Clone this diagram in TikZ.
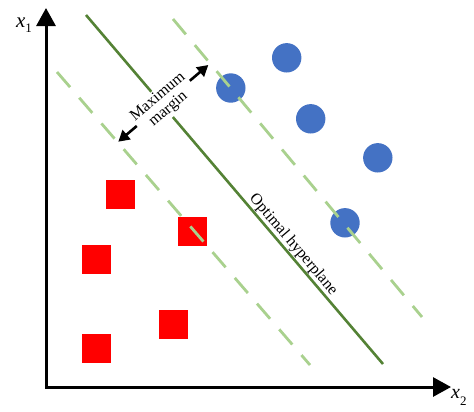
\documentclass[tikz,border=0pt]{standalone}
\usepackage{fontspec}
\setmainfont{Liberation Serif}
\usetikzlibrary{arrows.meta,calc}
\definecolor{hyper}{HTML}{548235}
\definecolor{marg}{HTML}{A9D18E}
\definecolor{pblue}{HTML}{4472C4}
\definecolor{pred}{HTML}{FF0000}
\begin{document}
\begin{tikzpicture}[x=1bp,y=1bp,
  axisline/.style={line width=3bp,{Triangle[length=18bp,width=19bp]}-{Triangle[length=18bp,width=19bp]}},
  hyperline/.style={draw=hyper,line width=2.6bp},
  margline/.style={draw=marg,line width=2.8bp,dash pattern=on 20bp off 14bp},
  sqpt/.style={fill=pred,draw=none,minimum size=29bp,inner sep=0pt,rectangle},
  cipt/.style={fill=pblue,draw=none,minimum size=29.4bp,inner sep=0pt,circle},
  marrow/.style={line width=2.6bp,{Triangle[length=11bp,width=12bp]}-{Triangle[length=11bp,width=12bp]}},
  lbl/.style={font=\fontsize{16}{16}\selectfont,inner sep=1pt}
]
\useasboundingbox (0,0) rectangle (474,-411);
% axes
\coordinate (ytip) at (46,-8);
\coordinate (orig) at (46,-387);
\coordinate (xtip) at (451,-387);
\draw[axisline] (ytip) -- (orig) -- (xtip);
\node[anchor=base west,inner sep=0pt] (xonelbl) at (16,-27)
  {\fontsize{21}{21}\selectfont\textit{x}\raisebox{-5bp}{\fontsize{13}{13}\selectfont 1}};
\node[anchor=base west,inner sep=0pt] (xtwolbl) at (451,-398)
  {\fontsize{20}{20}\selectfont\textit{x}\raisebox{-7bp}{\fontsize{13}{13}\selectfont 2}};
% points
\node[sqpt] (s1) at (120.5,-194.5) {};
\node[sqpt] (s2) at (192,-231) {};
\node[sqpt] (s3) at (96,-259.5) {};
\node[sqpt] (s4) at (173,-324) {};
\node[sqpt] (s5) at (96,-348.7) {};
\node[cipt] (c1) at (230.8,-88) {};
\node[cipt] (c2) at (286.7,-57.8) {};
\node[cipt] (c3) at (310.7,-118.8) {};
\node[cipt] (c4) at (377.8,-157.8) {};
\node[cipt] (c5) at (345,-222.8) {};
% hyperplane and margins
\coordinate (hs) at (86,-15);
\coordinate (he) at (383,-364);
\coordinate (ls) at (57,-72);
\coordinate (le) at (310,-365);
\coordinate (rs) at (173,-19);
\coordinate (re) at (422,-317);
\draw[hyperline] (hs) -- (he);
\draw[margline] (ls) -- (le);
\draw[margline] (rs) -- (re);
% margin arrow
\coordinate (ma) at (118.3,-141.7);
\coordinate (mb) at (208.3,-65);
\draw[marrow] (ma) -- (mb);
\node[lbl,fill=white,align=center,rotate=40.4,inner sep=1.5bp] (mmlabel) at ($(ma)!0.5!(mb)$) {Maximum\\margin};
\node[lbl,anchor=south,rotate=-49.6,inner sep=1.5bp] (hplabel) at ($(hs)!0.675!(he)$) {Optimal hyperplane};
\end{tikzpicture}
\end{document}
